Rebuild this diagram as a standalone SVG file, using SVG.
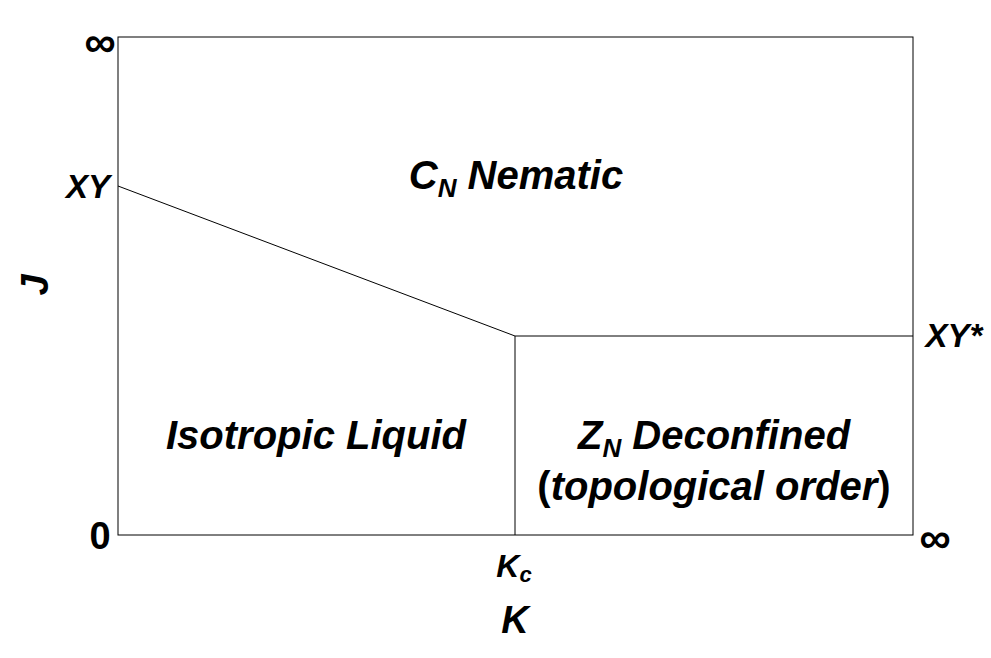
<svg xmlns="http://www.w3.org/2000/svg" width="991" height="658" viewBox="0 0 991 658">
<style>
.t{font-family:"Liberation Sans",Arial,sans-serif;font-weight:bold;fill:#000}
.i{font-style:italic}
.ln{stroke:#000;stroke-width:1;fill:none}
</style>
<rect width="991" height="658" fill="#fff"/>
<g id="frame"><rect class="ln" x="118" y="37" width="795" height="498"/></g>
<g id="connectors">
<polyline class="ln" points="118,186 515,336 913,336"/>
<line class="ln" x1="515" y1="336" x2="515" y2="535"/>
</g>
<g id="nematic"><text class="t i" x="516" y="189" font-size="40" text-anchor="middle">C<tspan font-size="26" dy="8">N</tspan><tspan dy="-8"> Nematic</tspan></text></g>
<g id="isotropic"><text class="t i" x="316" y="449" font-size="40" text-anchor="middle">Isotropic Liquid</text></g>
<g id="deconfined"><text class="t i" x="714" y="449" font-size="40" text-anchor="middle">Z<tspan font-size="26" dy="8">N</tspan><tspan dy="-8"> Deconfined</tspan></text>
<text class="t" x="714" y="500" font-size="40" text-anchor="middle">(<tspan font-style="italic">topological order</tspan>)</text></g>
<g id="axes">
<text class="t" x="100" y="57" font-size="44" text-anchor="middle">∞</text>
<text class="t i" x="88" y="198" font-size="33" text-anchor="middle">XY</text>
<text class="t i" x="48" y="285" font-size="38" text-anchor="middle" transform="rotate(-90 48 285)">J</text>
<text class="t" x="100" y="549" font-size="38" text-anchor="middle">0</text>
<text class="t i" x="514" y="577" font-size="32" text-anchor="middle">K<tspan font-size="22" dy="5">c</tspan></text>
<text class="t i" x="515" y="633" font-size="38" text-anchor="middle">K</text>
<text class="t i" x="954" y="347" font-size="33" text-anchor="middle">XY*</text>
<text class="t" x="935" y="553" font-size="44" text-anchor="middle">∞</text>
</g>
</svg>
